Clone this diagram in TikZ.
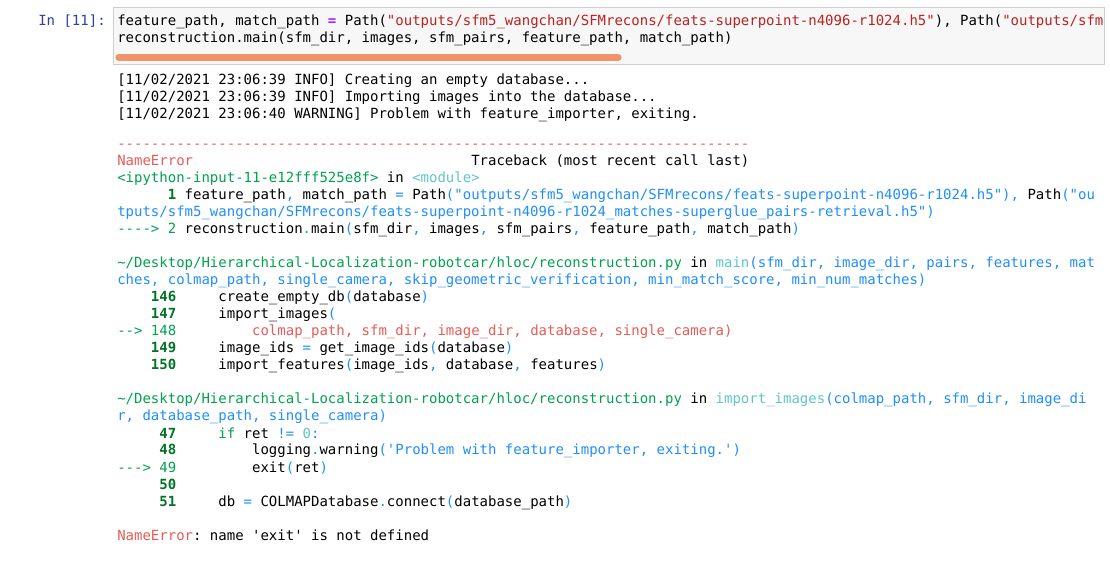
\documentclass[tikz,border=0pt]{standalone}
\usepackage{fontspec}
\setmonofont{DejaVu Sans Mono}
\definecolor{tb}{HTML}{208FFB}
\definecolor{tg}{HTML}{00A250}
\definecolor{tdg}{HTML}{007427}
\definecolor{tr}{HTML}{E75C58}
\definecolor{tc}{HTML}{60C6C8}
\definecolor{sr}{HTML}{BA2121}
\definecolor{kp}{HTML}{AA22FF}
\definecolor{prompt}{HTML}{303F9F}
\newcommand\cB[1]{\textcolor{tb}{#1}}
\newcommand\cG[1]{\textcolor{tg}{#1}}
\newcommand\cD[1]{\textcolor{tdg}{\bfseries #1}}
\newcommand\cR[1]{\textcolor{tr}{#1}}
\newcommand\cC[1]{\textcolor{tc}{#1}}
\newcommand\cS[1]{\textcolor{sr}{#1}}
\catcode`\_=12
\begin{document}
\begin{tikzpicture}[x=0.75pt,y=-0.75pt,
  ln/.style={anchor=base west,inner sep=0pt,font=\ttfamily\fontsize{10.5}{12.75}\selectfont}]
\useasboundingbox (0,0) rectangle (1110,573);
\fill[white] (0,0) rectangle (1110,573);
\node[ln,text=prompt] (prompt) at (38,26) {In [11]:};
\draw[fill=black!3,draw=black!19] (113,7) rectangle (1104,64);
\begin{scope}
\clip (114,8) rectangle (1103,63);
\node[ln] (in1) at (117,26) {feature_path, match_path \textcolor{kp}{\bfseries =} Path(\cS{"outputs/sfm5_wangchan/SFMrecons/feats-superpoint-n4096-r1024.h5"}), Path(\cS{"outputs/sfm5_wangchan"}};
\node[ln] (in2) at (117,43) {reconstruction.main(sfm_dir, images, sfm_pairs, feature_path, match_path)};
\end{scope}
\draw[line width=5.5pt,line cap=round,color={rgb,255:red,240;green,146;blue,106}] (119,57.5) -- (618,57.5);
\node[ln] (o1) at (117,85) {[11/02/2021 23:06:39 INFO] Creating an empty database...};
\node[ln] (o2) at (117,102) {[11/02/2021 23:06:39 INFO] Importing images into the database...};
\node[ln] (o3) at (117,119) {[11/02/2021 23:06:40 WARNING] Problem with feature_importer, exiting.};
\node[ln] (t0) at (117,149) {\cR{---------------------------------------------------------------------------}};
\node[ln] (t1) at (117,166) {\cR{NameError}~~~~~~~~~~~~~~~~~~~~~~~~~~~~~~~~~Traceback (most recent call last)};
\node[ln] (t2) at (117,183) {\cG{<ipython-input-11-e12fff525e8f>} in \cC{<module>}};
\node[ln] (t3) at (117,200) {~~~~~~\cD{1} feature_path\cB{,} match_path \cB{=} Path\cB{("outputs/sfm5_wangchan/SFMrecons/feats-superpoint-n4096-r1024.h5"),} Path\cB{("ou}};
\node[ln] (t4) at (117,217) {\cB{tputs/sfm5_wangchan/SFMrecons/feats-superpoint-n4096-r1024_matches-superglue_pairs-retrieval.h5")}};
\node[ln] (t5) at (117,234) {\cG{---->} \cG{2} reconstruction\cB{.}main\cB{(}sfm_dir\cB{,} images\cB{,} sfm_pairs\cB{,} feature_path\cB{,} match_path\cB{)}};
\node[ln] (t6) at (117,268) {\cG{\textasciitilde/Desktop/Hierarchical-Localization-robotcar/hloc/reconstruction.py} in \cC{main}\cB{(sfm_dir, image_dir, pairs, features, mat}};
\node[ln] (t7) at (117,285) {\cB{ches, colmap_path, single_camera, skip_geometric_verification, min_match_score, min_num_matches)}};
\node[ln] (t8) at (117,302) {~~~~\cD{146}~~~~~create_empty_db\cB{(}database\cB{)}};
\node[ln] (t9) at (117,319) {~~~~\cD{147}~~~~~import_images\cB{(}};
\node[ln] (t10) at (117,336) {\cG{-->} \cG{148}~~~~~~~~~\cR{colmap_path, sfm_dir, image_dir, database, single_camera)}};
\node[ln] (t11) at (117,353) {~~~~\cD{149}~~~~~image_ids \cB{=} get_image_ids\cB{(}database\cB{)}};
\node[ln] (t12) at (117,370) {~~~~\cD{150}~~~~~import_features\cB{(}image_ids\cB{,} database\cB{,} features\cB{)}};
\node[ln] (t13) at (117,404) {\cG{\textasciitilde/Desktop/Hierarchical-Localization-robotcar/hloc/reconstruction.py} in \cC{import_images}\cB{(colmap_path, sfm_dir, image_di}};
\node[ln] (t14) at (117,421) {\cB{r, database_path, single_camera)}};
\node[ln] (t15) at (117,438) {~~~~~\cD{47}~~~~~\cG{if} ret \cB{!=} \cC{0}\cB{:}};
\node[ln] (t16) at (117,455) {~~~~~\cD{48}~~~~~~~~~logging\cB{.}warning\cB{('Problem with feature_importer, exiting.')}};
\node[ln] (t17) at (117,472) {\cG{--->} \cG{49}~~~~~~~~~exit\cB{(}ret\cB{)}};
\node[ln] (t18) at (117,489) {~~~~~\cD{50}};
\node[ln] (t19) at (117,506) {~~~~~\cD{51}~~~~~db \cB{=} COLMAPDatabase\cB{.}connect\cB{(}database_path\cB{)}};
\node[ln] (t20) at (117,540) {\cR{NameError}: name 'exit' is not defined};
\end{tikzpicture}
\end{document}
